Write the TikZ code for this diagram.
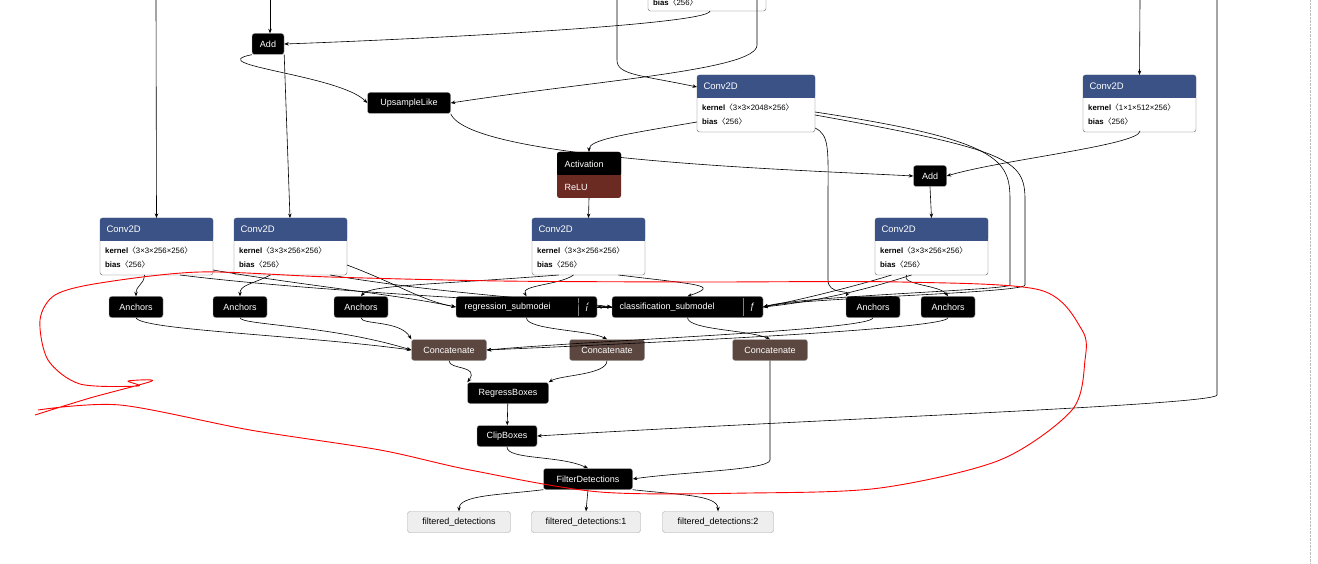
\documentclass[tikz,border=0pt]{standalone}
\usepackage{fontspec}
\setmainfont{Liberation Sans}
\newfontfamily\cjk{Noto Sans CJK SC}
\usetikzlibrary{arrows.meta}
\definecolor{hdr}{HTML}{3A5285}
\definecolor{brn}{HTML}{5B4740}
\definecolor{relu}{HTML}{6B2A22}
\definecolor{outf}{HTML}{EEEEEE}
\tikzset{
 x=1pt,y=-1pt,
 every node/.style={font=\fontsize{9}{10}\selectfont},
 op/.style={fill=black,text=white,rounded corners=2.5pt,minimum height=21pt,inner xsep=0pt,draw=gray!60},
 cat/.style={op,fill=brn},
 outn/.style={fill=outf,draw=gray!70,rounded corners=2.5pt,minimum height=21pt,inner xsep=0pt},
 ed/.style={-{Stealth[length=4.5pt,width=3.5pt]},line width=0.6pt},
}
\newcommand{\lb}{{\cjk 〈}}\newcommand{\rb}{{\cjk 〉}}
\newcommand{\convbox}[5]{% name, x1,y1,x2, kernel
 \draw[rounded corners=2.5pt,fill=white,draw=gray!80!black] (#2,#3) rectangle (#4,#3+57);
 \fill[hdr,rounded corners=2.5pt] (#2,#3) rectangle (#4,#3+23);
 \fill[hdr] (#2,#3+12) rectangle (#4,#3+23);
 \node[anchor=west,text=white,font=\fontsize{9.5}{10}\selectfont] at (#2+3,#3+11.5) {Conv2D};
 \node[anchor=west,inner sep=2pt,font=\fontsize{7.8}{9}\selectfont] at (#2+3,#3+33) {\textbf{kernel}\lb#5\rb};
 \node[anchor=west,inner sep=2pt,font=\fontsize{7.8}{9}\selectfont] at (#2+3,#3+47) {\textbf{bias}\lb256\rb};
 \coordinate (#1) at ({(#2+#4)/2},#3);
 \coordinate (#1b) at ({(#2+#4)/2},#3+57);
}
\begin{document}
\begin{tikzpicture}
\useasboundingbox[fill=white] (0,0) rectangle (1318,564);
\draw[rounded corners=2.5pt,fill=white,draw=gray!80!black] (648,-20) rectangle (766,11);
\node[anchor=west,inner sep=2pt,font=\fontsize{7.8}{9}\selectfont] at (651,3) {\textbf{bias}\lb256\rb};
\draw[gray!50,densely dotted] (1310,0) -- (1310,564);
\convbox{cb}{697}{75}{815}{3×3×2048×256}
\convbox{cr}{1083}{75}{1196}{1×1×512×256}
\convbox{c1}{100}{218}{213}{3×3×256×256}
\convbox{c2}{234}{218}{347}{3×3×256×256}
\convbox{c3}{532}{218}{645}{3×3×256×256}
\convbox{c4}{875}{218}{988}{3×3×256×256}
\fill[relu,rounded corners=2.5pt] (557,152) rectangle (621,198);
\fill[black,rounded corners=2.5pt] (557,152) rectangle (621,176);
\fill[relu] (557,175) rectangle (621,185);
\node[text=white,anchor=west] (act) at (561,164) {Activation};
\node[text=white,anchor=west] at (561,187) {ReLU};
\coordinate (actT) at (589,152); \coordinate (actB) at (589,198);
\node[op,minimum width=32pt] (add1) at (268,44) {Add};
\node[op,minimum width=83pt] (ups) at (409,103) {UpsampleLike};
\node[op,minimum width=33pt] (add2) at (930,176) {Add};
\foreach \n/\x in {a1/136,a2/240,a3/361,a4/873,a5/948}
  \node[op,minimum width=54pt] (\n) at (\x,307) {Anchors};
\node[op,minimum width=141pt] (reg) at (526.5,307) {};
\node[text=white,anchor=west] at (461,307) {regression\_submodel};
\draw[gray] (578,298) -- (578,316); \node[text=white] at (587,307) {\textit{ƒ}};
\node[op,minimum width=151pt] (cls) at (687.5,307) {};
\node[text=white,anchor=west] at (616,307) {classification\_submodel};
\draw[gray] (743,298) -- (743,316); \node[text=white] at (752,307) {\textit{ƒ}};
\node[cat,minimum width=75pt] (k1) at (449,350) {Concatenate};
\node[cat,minimum width=75pt] (k2) at (607,350) {Concatenate};
\node[cat,minimum width=75pt] (k3) at (770,350) {Concatenate};
\node[op,minimum width=81pt] (rb) at (508,393) {RegressBoxes};
\node[op,minimum width=60pt] (cbx) at (507,436) {ClipBoxes};
\node[op,minimum width=89pt] (fd) at (588,479) {FilterDetections};
\node[outn,minimum width=103pt] (o1) at (459,522) {filtered\_detections};
\node[outn,minimum width=109pt] (o2) at (586,522) {filtered\_detections:1};
\node[outn,minimum width=111pt] (o3) at (718,522) {filtered\_detections:2};
\coordinate (t1) at (156,0); \coordinate (t2) at (270,0); \coordinate (t3) at (617,0);
\coordinate (t4) at (1140,0); \coordinate (t5) at (1217,0); \coordinate (t6) at (757,0);
\coordinate (p1) at (710,11);
\draw[ed] (t1) -- (c1);
\draw[ed] (t2) -- (add1.north -| t2);
\draw[ed] (p1) .. controls (710,25) and (400,40) .. (add1.east);
\draw[ed] (t3) -- (617,60) .. controls (617,75) and (640,75) .. (697,87);
\draw[ed] (t6) -- (757,45) .. controls (757,70) and (600,80) .. (ups.east);
\draw[ed] (t4) -- (cr);
\draw[ed] (add1.south west) .. controls (200,65) and (340,75) .. (ups.west);
\draw[ed] (add1.south east) -- (290,218);
\draw[ed] (ups.south east) .. controls (470,160) and (800,170) .. (add2.west);
\draw[ed] (1140,131) .. controls (1140,145) and (1000,160) .. (add2.east);
\draw[ed] (697,122) .. controls (620,135) and (589,140) .. (actT);
\draw[ed] (actB) -- (c3);
\draw[ed] (add2.south) -- (c4);
\draw[ed] (815,128) .. controls (830,135) and (828,150) .. (828,200) -- (828,280) .. controls (828,295) and (850,290) .. (a4.north west);
\draw[ed] (815,112) .. controls (1000,140) and (1010,160) .. (1010,200) -- (1010,285) .. controls (1010,290) and (800,296) .. (cls.east);
\draw[ed] (815,115) .. controls (1010,150) and (1025,160) .. (1025,200) -- (1025,285) .. controls (1025,293) and (800,298) .. (cls.east);
\draw[ed] (c1b) ++(-12,0) .. controls (144,285) and (136,285) .. (a1.north);
\draw[ed] (213,270) .. controls (300,285) and (400,295) .. (reg.west);
\draw[ed] (180,275) .. controls (300,290) and (500,300) .. (cls.west);
\draw[ed] (c2b) ++(-20,0) .. controls (250,285) and (240,285) .. (a2.north);
\draw[ed] (347,265) .. controls (400,285) and (420,300) .. (reg.west);
\draw[ed] (330,275) .. controls (450,295) and (560,300) .. (cls.west);
\draw[ed] (c3b) ++(-30,0) .. controls (430,285) and (370,285) .. (a3.north);
\draw[ed] (c3b) ++(-15,0) .. controls (560,285) and (520,285) .. (reg.north);
\draw[ed] (c3b) ++(30,0) .. controls (700,285) and (720,285) .. (cls.north);
\draw[ed] (c4b) ++(-40,0) .. controls (860,285) and (800,300) .. (cls.east);
\draw[ed] (c4b) ++(-20,0) .. controls (880,285) and (830,300) .. (cls.east);
\draw[ed] (c4b) ++(-25,0) .. controls (900,285) and (940,285) .. (a5.north);
\draw[ed] (cls.west) -- (reg.east);
\draw[ed] (reg.east) -- (cls.west);
\draw[ed] (a1.south) .. controls (140,330) and (300,335) .. (k1.west);
\draw[ed] (a2.south) .. controls (240,325) and (330,325) .. (k1.west);
\draw[ed] (a3.south) .. controls (361,325) and (400,320) .. (k1.north west);
\draw[ed] (a4.south) .. controls (873,330) and (600,340) .. (k1.east);
\draw[ed] (a5.south) .. controls (948,330) and (600,345) .. (k1.east);
\draw[ed] (reg.south) .. controls (526,330) and (590,330) .. (k2.north);
\draw[ed] (cls.south) .. controls (688,330) and (750,330) .. (k3.north);
\draw[ed] (k1.south) .. controls (449,370) and (480,365) .. (rb.north west);
\draw[ed] (k2.south) .. controls (607,375) and (560,375) .. (rb.north east);
\draw[ed] (rb) -- (cbx);
\draw[ed] (cbx.south) .. controls (506,460) and (560,455) .. (fd.north);
\draw[ed] (k3.south) -- (770,460) .. controls (770,470) and (680,472) .. (fd.east);
\draw[ed] (t5) -- (1217,395) .. controls (1217,405) and (800,420) .. (cbx.east);
\draw[ed] (fd.south west) .. controls (500,495) and (459,495) .. (o1.north);
\draw[ed] (fd.south) -- (o2.north);
\draw[ed] (fd.south east) .. controls (680,495) and (718,495) .. (o3.north);
\draw[red,line width=0.9pt,line join=round] plot[smooth,tension=0.5] coordinates {
 (35,415) (90,398) (152,381) (128,381) (138,386) (80,384) (48,360) (40,320) (55,295) (100,283)
 (200,272) (330,277) (500,281) (700,282) (900,282) (1040,290) (1082,330) (1085,360) (1072,410)
 (1000,460) (880,488) (750,493) (600,492) (470,470) (380,450) (250,430) (120,405) (38,410)};
\end{tikzpicture}
\end{document}
